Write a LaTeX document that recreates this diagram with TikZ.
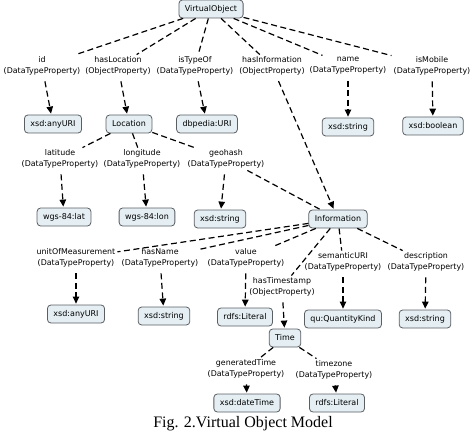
\documentclass[tikz,border=0pt]{standalone}
\usepackage{fontspec}
\setmainfont{DejaVu Sans}
\newfontfamily\capfont{Liberation Serif}
\usetikzlibrary{arrows.meta}
\definecolor{boxfill}{HTML}{E4EEF3}
\definecolor{boxline}{HTML}{5A5F63}
\tikzset{
  concept/.style={draw=boxline, fill=boxfill, rounded corners=3.5pt, line width=0.8pt,
    inner xsep=6pt, inner ysep=0pt, minimum height=18pt, font=\fontsize{8}{9}\selectfont},
  rel/.style={align=center, inner sep=2pt, font=\fontsize{7.9}{10.8}\selectfont},
  link/.style={line width=1.2pt, dash pattern=on 6pt off 3.5pt},
  arr/.style={link, -{Triangle[length=7pt,width=6.5pt]}, shorten <=4pt, shorten >=1pt},
}
\begin{document}
\begin{tikzpicture}[x=1pt,y=-1pt]
\useasboundingbox (0,0) rectangle (474,433);
% concepts
\node[concept] (vo) at (211,9) {VirtualObject};
\node[concept] (anyuri1) at (53,124) {xsd:anyURI};
\node[concept] (loc) at (129,124) {Location};
\node[concept] (dbp) at (207,124) {dbpedia:URI};
\node[concept] (str1) at (348,127) {xsd:string};
\node[concept] (bool) at (433,126) {xsd:boolean};
\node[concept] (lat) at (64,217) {wgs-84:lat};
\node[concept] (lon) at (147,217) {wgs-84:lon};
\node[concept] (str2) at (220,219) {xsd:string};
\node[concept] (info) at (338,219) {Information};
\node[concept] (anyuri2) at (76,314) {xsd:anyURI};
\node[concept] (str3) at (164,316) {xsd:string};
\node[concept] (lit1) at (245,317) {rdfs:Literal};
\node[concept] (time) at (285,338) {Time};
\node[concept] (qk) at (343,319) {qu:QuantityKind};
\node[concept] (str4) at (425,319) {xsd:string};
\node[concept] (dt) at (247,403) {xsd:dateTime};
\node[concept] (lit2) at (337,403) {rdfs:Literal};
% relations
\node[rel] (rid) at (42,66) {id\\(DataTypeProperty)};
\node[rel] (rloc) at (118,66) {hasLocation\\(ObjectProperty)};
\node[rel] (rtype) at (195,66) {isTypeOf\\(DataTypeProperty)};
\node[rel] (rinfo) at (272,66) {hasInformation\\(ObjectProperty)};
\node[rel] (rname) at (348,66) {name\\(DataTypeProperty)};
\node[rel] (rmob) at (432,66) {isMobile\\(DataTypeProperty)};
\node[rel] (rlat) at (60,159) {latitude\\(DataTypeProperty)};
\node[rel] (rlon) at (142,159) {longitude\\(DataTypeProperty)};
\node[rel] (rgeo) at (226,159) {geohash\\(DataTypeProperty)};
\node[rel] (runit) at (76,258) {unitOfMeasurement\\(DataTypeProperty)};
\node[rel] (rhn) at (160,258) {hasName\\(DataTypeProperty)};
\node[rel] (rval) at (246,258) {value\\(DataTypeProperty)};
\node[rel] (rts) at (282,287) {hasTimestamp\\(ObjectProperty)};
\node[rel] (rsem) at (343,262) {semanticURI\\(DataTypeProperty)};
\node[rel] (rdesc) at (426,262) {description\\(DataTypeProperty)};
\node[rel] (rgen) at (246,369) {generatedTime\\(DataTypeProperty)};
\node[rel] (rtz) at (334,370) {timezone\\(DataTypeProperty)};
% connectors
\foreach \r in {rid,rloc,rtype,rinfo,rname,rmob} \draw[link] (vo) -- (\r);
\draw[arr] (rid) -- (anyuri1);
\draw[arr] (rloc) -- (loc);
\draw[arr] (rtype) -- (dbp);
\draw[arr] (rinfo) -- (info);
\draw[arr] (rname) -- (str1);
\draw[arr] (rmob) -- (bool);
\foreach \r in {rlat,rlon,rgeo} \draw[link] (loc) -- (\r);
\draw[arr] (rlat) -- (lat);
\draw[arr] (rlon) -- (lon);
\draw[arr] (rgeo) -- (str2);
\draw[link] (rgeo) -- (info);
\foreach \r in {runit,rhn,rval,rts,rsem,rdesc} \draw[link] (info) -- (\r);
\draw[arr] (runit) -- (anyuri2);
\draw[arr] (rhn) -- (str3);
\draw[arr] (rval) -- (lit1);
\draw[arr] (rts) -- (time);
\draw[arr] (rsem) -- (qk);
\draw[arr] (rdesc) -- (str4);
\draw[link] (time) -- (rgen);
\draw[link] (time) -- (rtz);
\draw[arr] (rgen) -- (dt);
\draw[arr] (rtz) -- (lit2);
% caption
\node[font=\capfont\fontsize{16}{18}\selectfont, inner sep=0pt] (cap) at (243,424) {Fig. 2.Virtual Object Model};
\end{tikzpicture}
\end{document}
